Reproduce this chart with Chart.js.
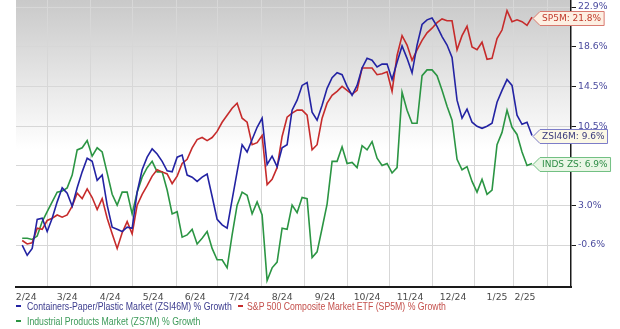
<!DOCTYPE html>
<html>
<head>
<meta charset="utf-8">
<script src="https://cdn.jsdelivr.net/npm/chart.js@4.4.1/dist/chart.umd.min.js"></script>
<style>
    html, body { margin: 0; padding: 0; background: #fff; }
    #wrap { position: relative; width: 620px; height: 329px; overflow: hidden; }
    .lg-mark { position: absolute; width: 5px; height: 2px; }
    .lg-text { position: absolute; font-family: "Liberation Sans", Arial, sans-serif; font-size: 10.5px; white-space: nowrap; line-height: 12px; transform: scaleX(0.83); transform-origin: 0 50%; }
</style>
</head>
<body>
<div id="wrap">
    <canvas id="growthCanvas" width="620" height="329"></canvas>
    <div id="legend"></div>
</div>
<script>
// trading-day samples, Feb 2024 -> Feb 2025 (% growth)
const containersGrowth = [
    -0.6, -1.5, -0.9, 1.7, 1.8, 0.6, 1.8, 3.3, 4.6, 4.1,
    2.9, 4.6, 6.1, 7.4, 7.1, 5.3, 5.8, 3.0, 1.0, 0.8,
    0.6, 1.0, 0.9, 4.2, 6.3, 7.5, 8.3, 7.8, 7.1, 6.2,
    6.1, 7.5, 7.7, 5.8, 5.6, 5.2, 5.6, 5.9, 3.8, 1.7,
    1.2, 0.9, 3.5, 6.1, 8.7, 8.0, 9.2, 10.4, 11.3, 6.8,
    7.6, 6.6, 8.4, 8.7, 12.1, 13.1, 14.6, 14.9, 11.9, 11.1,
    12.6, 14.3, 15.4, 15.9, 15.7, 14.5, 13.6, 14.6, 16.4, 17.4,
    17.2, 16.5, 16.8, 16.8, 15.2, 17.0, 18.7, 17.4, 15.9, 18.8,
    21.0, 21.5, 21.7, 20.8, 19.7, 18.8, 17.5, 13.1, 11.3, 12.2,
    10.9, 10.5, 10.3, 10.5, 10.8, 12.9, 14.1, 15.2, 14.6, 11.6,
    10.7, 10.9, 9.6
];
const sp500Growth = [
    -0.2, -0.5, -0.4, 0.9, 0.8, 1.6, 1.8, 2.1, 1.9, 2.1,
    2.9, 4.1, 3.6, 4.5, 3.7, 2.6, 3.6, 1.8, 0.4, -0.9,
    0.5, 1.5, 0.4, 3.0, 4.0, 4.8, 5.7, 6.3, 6.1, 5.9,
    5.0, 5.7, 6.9, 7.3, 8.4, 9.2, 9.4, 9.1, 9.4, 10.0,
    10.9, 11.6, 12.3, 12.8, 11.3, 10.9, 8.7, 8.9, 9.6, 4.9,
    5.4, 6.5, 9.5, 11.4, 11.8, 12.1, 12.1, 11.6, 8.2, 8.7,
    11.3, 12.8, 13.6, 14.0, 14.5, 14.1, 13.7, 14.1, 16.4, 16.4,
    16.4, 15.7, 15.8, 16.0, 14.0, 17.7, 19.8, 18.8, 17.2, 18.3,
    19.3, 20.1, 20.6, 21.2, 21.6, 21.4, 21.4, 18.3, 19.8, 20.8,
    18.6, 18.3, 19.1, 17.3, 17.4, 19.5, 20.4, 22.5, 21.3, 21.5,
    21.3, 20.9, 21.8
];
const industrialGrowth = [
    0.0, 0.0, -0.1, 0.2, 1.5, 2.4, 3.3, 4.2, 4.3, 4.6,
    5.8, 8.2, 8.4, 9.1, 7.6, 8.4, 8.0, 6.0, 4.0, 3.0,
    4.2, 4.2, 2.2, 4.2, 5.6, 6.5, 7.1, 6.1, 6.1, 4.4,
    2.2, 2.4, 0.1, 0.3, 0.8, -0.5, 0.0, 0.6, -0.9, -1.9,
    -1.9, -2.6, 0.3, 3.0, 4.2, 3.9, 2.2, 3.3, 2.1, -3.7,
    -2.6, -2.1, 0.9, 0.8, 3.0, 2.3, 3.7, 3.6, -1.7, -1.2,
    0.9, 3.1, 7.1, 7.1, 8.5, 6.9, 7.0, 6.5, 8.6, 8.2,
    9.0, 7.4, 6.7, 6.9, 6.0, 6.5, 13.9, 12.1, 10.8, 10.8,
    15.6, 16.2, 16.2, 15.6, 14.1, 12.5, 11.1, 7.3, 6.3, 6.6,
    5.2, 4.2, 5.4, 4.0, 4.4, 8.7, 9.9, 12.1, 10.4, 9.7,
    8.0, 6.7, 6.9
];

const seriesNames = [
    'Containers-Paper/Plastic Market (ZSI46M) % Growth',
    'S&P 500 Composite Market ETF (SP5M) % Growth',
    'Industrial Products Market (ZS7M) % Growth'
];
const seriesTags = ['ZSI46M', 'SP5M', 'INDS ZS'];

// x axis (sample index)
const monthLabels = ['2/24', '3/24', '4/24', '5/24', '6/24', '7/24', '8/24', '9/24', '10/24', '11/24', '12/24', '1/25', '2/25'];
const monthLabelAt = [0.8, 9.0, 17.6, 26.2, 34.6, 43.4, 52.0, 60.6, 69.0, 77.6, 86.2, 95.0, 100.6];
const gridLineAt = [5.1, 13.6, 22.0, 30.8, 39.0, 47.8, 56.4, 65.0, 73.4, 82.0, 90.4, 98.2, 105.0];
const xRange = [-1.24, 109.8];

// y axis (% growth, log of index level)
const yTicks = [-0.6, 3.0, 6.7, 10.5, 14.5, 18.6, 22.9];
const yRange = [-4.25, 23.67];

const colors = {
    line: ['#2323a3', '#c62b2b', '#2b9543'],
    legendText: ['#3c3c8e', '#c4504c', '#3b9a58'],
    tagFill: ['#fbf8e6', '#fdefe2', '#e9f6e5'],
    tagBorder: ['#7c7cc8', '#d97a70', '#72c083'],
    tagText: ['#3a3a7c', '#c0392b', '#2e8d46']
};

const allSeries = [containersGrowth, sp500Growth, industrialGrowth];

function toIndex(values) {
    return values.map((v, i) => ({ x: i, y: 100 + v }));
}

const backgroundPlugin = {
    id: 'chartBackground',
    beforeDraw(chart) {
        const { ctx, chartArea } = chart;
        ctx.save();
        ctx.fillStyle = '#fff';
        ctx.fillRect(0, 0, chart.width, chart.height);
        const g = ctx.createLinearGradient(0, chartArea.top, 0, chartArea.bottom);
        g.addColorStop(0, '#c9c9c9');
        g.addColorStop(0.52, '#ffffff');
        g.addColorStop(1, '#ffffff');
        ctx.fillStyle = g;
        ctx.fillRect(chartArea.left, chartArea.top, chartArea.right - chartArea.left, chartArea.bottom - chartArea.top);
        ctx.restore();
    }
};

const endTagPlugin = {
    id: 'endTags',
    afterDraw(chart) {
        const ctx = chart.ctx;
        ctx.save();
        ctx.font = '9px "DejaVu Sans"';
        ctx.textBaseline = 'middle';
        chart.data.datasets.forEach((ds, i) => {
            const meta = chart.getDatasetMeta(i);
            const pt = meta.data[meta.data.length - 1];
            const values = allSeries[i];
            const text = seriesTags[i] + ': ' + values[values.length - 1].toFixed(1) + '%';
            const tx = pt.x + 1;
            const ty = Math.round(pt.y) + 1.5;
            const w = ctx.measureText(text).width + 12;
            const h = 14;
            ctx.beginPath();
            ctx.moveTo(tx, ty);
            ctx.lineTo(tx + 7, ty - h / 2);
            ctx.lineTo(tx + w, ty - h / 2);
            ctx.lineTo(tx + w, ty + h / 2);
            ctx.lineTo(tx + 7, ty + h / 2);
            ctx.closePath();
            ctx.fillStyle = colors.tagFill[i];
            ctx.fill();
            ctx.strokeStyle = colors.tagBorder[i];
            ctx.lineWidth = 1;
            ctx.stroke();
            ctx.fillStyle = colors.tagText[i];
            ctx.fillText(text, tx + 9, ty + 0.5);
        });
        ctx.restore();
    }
};

function initGrowthChart() {
    const ctx = document.getElementById('growthCanvas').getContext('2d');

    new Chart(ctx, {
        type: 'line',
        data: {
            datasets: allSeries.map((values, i) => ({
                label: seriesNames[i],
                data: toIndex(values),
                borderColor: colors.line[i],
                borderWidth: 1.6,
                pointRadius: 0,
                tension: 0,
                fill: false
            }))
        },
        options: {
            responsive: false,
            animation: false,
            layout: { padding: { left: 16, top: 0, right: 0, bottom: 0 } },
            plugins: {
                legend: { display: false },
                tooltip: { enabled: false }
            },
            scales: {
                xg: {
                    type: 'linear',
                    position: 'bottom',
                    min: xRange[0],
                    max: xRange[1],
                    grid: { color: '#d7d7d7', drawTicks: false },
                    border: { display: false },
                    ticks: { display: false },
                    afterBuildTicks: scale => { scale.ticks = gridLineAt.map(v => ({ value: v })); },
                    afterFit: scale => { scale.height = 0; scale.paddingLeft = 0; scale.paddingRight = 0; }
                },
                x: {
                    type: 'linear',
                    position: 'bottom',
                    min: xRange[0],
                    max: xRange[1],
                    grid: { display: false, drawTicks: false },
                    border: { display: true, color: '#1a1a1a', width: 2 },
                    ticks: {
                        autoSkip: false,
                        maxRotation: 0,
                        padding: 5,
                        color: '#4a4a4a',
                        font: { family: 'DejaVu Sans', size: 9.3 },
                        callback: (value, index) => monthLabels[index]
                    },
                    afterBuildTicks: scale => { scale.ticks = monthLabelAt.map(v => ({ value: v })); },
                    afterFit: scale => { scale.height = 42; scale.paddingLeft = 0; scale.paddingRight = 0; }
                },
                y: {
                    type: 'logarithmic',
                    position: 'right',
                    min: 100 + yRange[0],
                    max: 100 + yRange[1],
                    grid: { color: '#d7d7d7', tickColor: '#1a1a1a', tickLength: 5 },
                    border: { display: true, color: '#1a1a1a', width: 1.5 },
                    ticks: {
                        autoSkip: false,
                        padding: 2,
                        color: '#4b4b9e',
                        font: { family: 'DejaVu Sans', size: 9.3 },
                        callback: value => (value - 100).toFixed(1) + '%'
                    },
                    afterBuildTicks: scale => { scale.ticks = yTicks.map(v => ({ value: 100 + v })); },
                    afterFit: scale => { scale.width = 49; scale.paddingTop = 0; scale.paddingBottom = 0; }
                }
            }
        },
        plugins: [backgroundPlugin, endTagPlugin]
    });
}

function buildLegend() {
    const legend = document.getElementById('legend');
    // row / left placement of each legend entry
    const slots = [
        { top: 300, mark: 16, text: 27 },
        { top: 300, mark: 238, text: 247 },
        { top: 315, mark: 16, text: 27 }
    ];
    seriesNames.forEach((name, i) => {
        const s = slots[i];
        const mark = document.createElement('span');
        mark.className = 'lg-mark';
        mark.style.left = s.mark + 'px';
        mark.style.top = (s.top + 5) + 'px';
        mark.style.background = colors.line[i];
        const txt = document.createElement('span');
        txt.className = 'lg-text';
        txt.style.left = s.text + 'px';
        txt.style.top = s.top + 'px';
        txt.style.color = colors.legendText[i];
        txt.textContent = name;
        legend.appendChild(mark);
        legend.appendChild(txt);
    });
}

document.addEventListener('DOMContentLoaded', function() {
    initGrowthChart();
    buildLegend();
});
</script>
</body>
</html>
